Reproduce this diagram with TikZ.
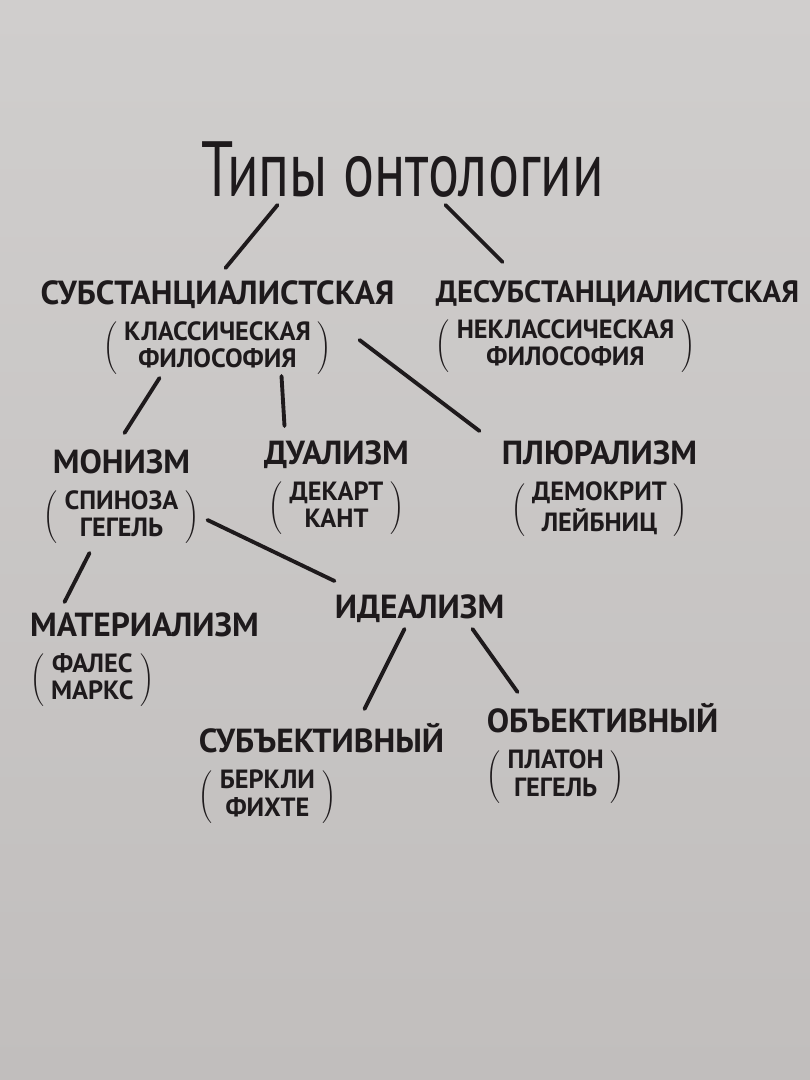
\documentclass[tikz,border=0pt]{standalone}
\usepackage{fontspec}
\setmainfont{PT Sans}
\usepackage{graphicx}
\definecolor{ink}{RGB}{30,26,28}
\definecolor{paper}{RGB}{208,206,205}
\definecolor{paperdark}{RGB}{193,190,189}
\delimiterfactor=850
% head line, then two names in one pair of brackets
\newcommand{\onto}[5][c]{\begin{tabular}{@{}#1@{}}{\fontsize{#5}{21}\selectfont #2}\\[5pt]$\left(\;\begin{tabular}{@{}c@{}}#3\\#4\end{tabular}\;\right)$\end{tabular}}

\begin{document}
\begin{tikzpicture}[
        node distance=3cm,
        onto/.style={inner sep=0pt, align=center, text=ink, font=\bfseries\fontsize{15}{15.5}\selectfont},
        link/.style={draw=ink, line width=2.2pt, line cap=round}
    ]
        \shade[top color=paper, bottom color=paperdark] (0,0) rectangle (16.2,-21.6);
        \useasboundingbox (0,0) rectangle (16.2,-21.6);

        \node[onto, font=\fontsize{33}{35}\selectfont] (title) at (8.05,-3.4) {\scalebox{1}[1.35]{Типы онтологии}};

        \node[onto] (sub) [below of=title, xshift=-3.7cm, yshift=-0.16cm] {\onto{СУБСТАНЦИАЛИСТСКАЯ}{КЛАССИЧЕСКАЯ}{ФИЛОСОФИЯ}{19}};
        \node[onto] (desub) [below of=title, xshift=4.3cm, yshift=-0.14cm] {\onto[l]{ДЕСУБСТАНЦИАЛИСТСКАЯ}{НЕКЛАССИЧЕСКАЯ}{ФИЛОСОФИЯ}{17.5}};

        \node[onto] (mon) [below of=sub, xshift=-1.92cm, yshift=-0.38cm] {\onto{МОНИЗМ}{СПИНОЗА}{ГЕГЕЛЬ}{19}};
        \node[onto] (dual) [below of=sub, xshift=2.38cm, yshift=-0.2cm] {\onto{ДУАЛИЗМ}{ДЕКАРТ}{КАНТ}{19}};
        \node[onto] (plur) [below of=sub, xshift=7.64cm, yshift=-0.24cm] {\onto{ПЛЮРАЛИЗМ}{ДЕМОКРИТ}{ЛЕЙБНИЦ}{19}};

        \node[onto] (mat) [below of=mon, xshift=0.46cm, yshift=-0.26cm] {\onto[l]{МАТЕРИАЛИЗМ}{ФАЛЕС}{МАРКС}{19}};
        \node[onto, font=\bfseries\fontsize{19}{21}\selectfont] (ideal) [below of=mon, xshift=5.96cm, yshift=0.76cm] {ИДЕАЛИЗМ};

        \node[onto] (subj) [below of=ideal, xshift=-1.96cm, yshift=-0.3cm] {\onto[l]{СУБЪЕКТИВНЫЙ}{БЕРКЛИ}{ФИХТЕ}{19}};
        \node[onto] (obj) [below of=ideal, xshift=3.66cm, yshift=0.1cm] {\onto[l]{ОБЪЕКТИВНЫЙ}{ПЛАТОН}{ГЕГЕЛЬ}{19}};

        \draw[link] ([shift={(-2.5,-0.7)}]title.center) -- ([shift={(0.16,1.2)}]sub.center);
        \draw[link] ([shift={(0.86,-0.7)}]title.center) -- ([shift={(-2.3,1.3)}]desub.center);
        \draw[link] ([shift={(-1.16,-1.0)}]sub.center) -- ([shift={(0.06,1.28)}]mon.center);
        \draw[link] ([shift={(1.28,-0.96)}]sub.center) -- ([shift={(-1.04,1.24)}]dual.center);
        \draw[link] ([shift={(2.84,-0.24)}]sub.center) -- ([shift={(-2.4,1.18)}]plur.center);
        \draw[link] ([shift={(-0.64,-1.12)}]mon.center) -- ([shift={(-1.6,1.16)}]mat.center);
        \draw[link] ([shift={(1.72,-0.46)}]mon.center) -- ([shift={(-1.7,0.56)}]ideal.center);
        \draw[link] ([shift={(-0.3,-0.4)}]ideal.center) -- ([shift={(0.86,1.3)}]subj.center);
        \draw[link] ([shift={(1.06,-0.4)}]ideal.center) -- ([shift={(-1.7,1.24)}]obj.center);
    \end{tikzpicture}
\end{document}
